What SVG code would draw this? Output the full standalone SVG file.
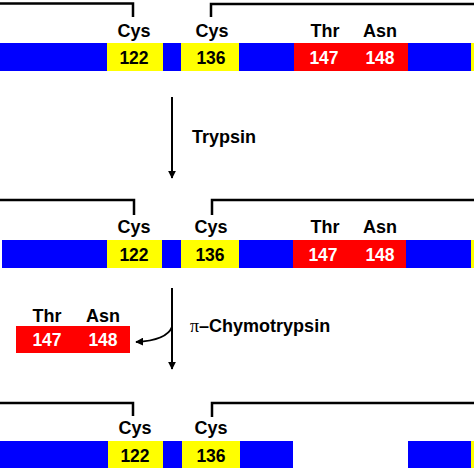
<svg xmlns="http://www.w3.org/2000/svg" width="474" height="474" viewBox="0 0 474 474">
<defs>
<style>
.b{fill:#0000ff}
.y{fill:#ffff00}
.r{fill:#ff0000}
.lbl{font-family:"Liberation Sans",Arial,sans-serif;font-weight:bold;font-size:18px;fill:#000;text-anchor:middle}
.num{font-family:"Liberation Sans",Arial,sans-serif;font-weight:bold;font-size:17.5px;text-anchor:middle}
.nk{fill:#000}
.nw{fill:#fff}
.br{fill:none;stroke:#000;stroke-width:2.5}
.ln{fill:none;stroke:#000;stroke-width:2}
.enz{font-family:"Liberation Sans",Arial,sans-serif;font-weight:bold;font-size:18px;fill:#000}
</style>
<marker id="ah" viewBox="0 0 10 10" refX="9" refY="5" markerWidth="4" markerHeight="4" orient="auto" markerUnits="strokeWidth">
<path d="M0,0 L10,5 L0,10 z" fill="#000"/>
</marker>
</defs>
<rect width="474" height="474" fill="#fff"/>

<g id="row1">
<path class="br" d="M0,3.5 H133 V17"/>
<path class="br" d="M211,17 V4 H474"/>
<text class="lbl" x="134" y="37">Cys</text>
<text class="lbl" x="212" y="37">Cys</text>
<text class="lbl" x="325" y="37">Thr</text>
<text class="lbl" x="380" y="37">Asn</text>
<rect class="b" x="0" y="43" width="107" height="28"/>
<rect class="y" x="107" y="43" width="56" height="28"/>
<rect class="b" x="163" y="43" width="18" height="28"/>
<rect class="y" x="181" y="43" width="58" height="28"/>
<rect class="b" x="239" y="43" width="55" height="28"/>
<rect class="r" x="294" y="43" width="114" height="28"/>
<rect class="b" x="408" y="43" width="63" height="28"/>
<rect class="y" x="471" y="43" width="3" height="28"/>
<text class="num nk" x="134" y="64">122</text>
<text class="num nk" x="211" y="64">136</text>
<text class="num nw" x="324" y="64">147</text>
<text class="num nw" x="380" y="64">148</text>
</g>

<g id="row2">
<path class="br" d="M0,200 H134 V215"/>
<path class="br" d="M212,215 V200 H474"/>
<text class="lbl" x="134" y="233">Cys</text>
<text class="lbl" x="211" y="233">Cys</text>
<text class="lbl" x="325" y="233">Thr</text>
<text class="lbl" x="380" y="233">Asn</text>
<rect class="b" x="2" y="240" width="105" height="28"/>
<rect class="y" x="107" y="240" width="55" height="28"/>
<rect class="b" x="162" y="240" width="19" height="28"/>
<rect class="y" x="181" y="240" width="58" height="28"/>
<rect class="b" x="239" y="240" width="54" height="28"/>
<rect class="r" x="293" y="240" width="113" height="28"/>
<rect class="b" x="406" y="240" width="65" height="28"/>
<rect class="y" x="471" y="240" width="3" height="28"/>
<text class="num nk" x="134" y="261">122</text>
<text class="num nk" x="210" y="261">136</text>
<text class="num nw" x="323" y="261">147</text>
<text class="num nw" x="380" y="261">148</text>
</g>

<g id="fragment">
<text class="lbl" x="47" y="322">Thr</text>
<text class="lbl" x="103" y="322">Asn</text>
<rect class="r" x="16" y="326" width="114" height="27"/>
<text class="num nw" x="47" y="346">147</text>
<text class="num nw" x="103" y="346">148</text>
</g>

<g id="row3">
<path class="br" d="M0,403 H133 V416"/>
<path class="br" d="M212,417 V403 H474"/>
<text class="lbl" x="135" y="434">Cys</text>
<text class="lbl" x="211" y="434">Cys</text>
<rect class="b" x="0" y="441" width="108" height="27"/>
<rect class="y" x="108" y="441" width="55" height="27"/>
<rect class="b" x="163" y="441" width="19" height="27"/>
<rect class="y" x="182" y="441" width="58" height="27"/>
<rect class="b" x="240" y="441" width="53" height="27"/>
<rect class="b" x="408" y="441" width="63" height="27"/>
<rect class="y" x="471" y="441" width="3" height="27"/>
<text class="num nk" x="135" y="462">122</text>
<text class="num nk" x="211" y="462">136</text>
</g>

<g id="connectors">
<line class="ln" x1="172" y1="97" x2="172" y2="178" marker-end="url(#ah)"/>
<line class="ln" x1="172" y1="288" x2="172" y2="369" marker-end="url(#ah)"/>
<path class="ln" d="M172,327 C168,337 155,341 136,342" marker-end="url(#ah)"/>
</g>

<g id="labels">
<text class="enz" x="192" y="143">Trypsin</text>
<text x="190" y="332" style="font-size:18px;fill:#000"><tspan style="font-family:'Liberation Serif','Times New Roman',serif">π</tspan><tspan style="font-family:'Liberation Sans',Arial,sans-serif;font-weight:bold">–Chymotrypsin</tspan></text>
</g>
</svg>
